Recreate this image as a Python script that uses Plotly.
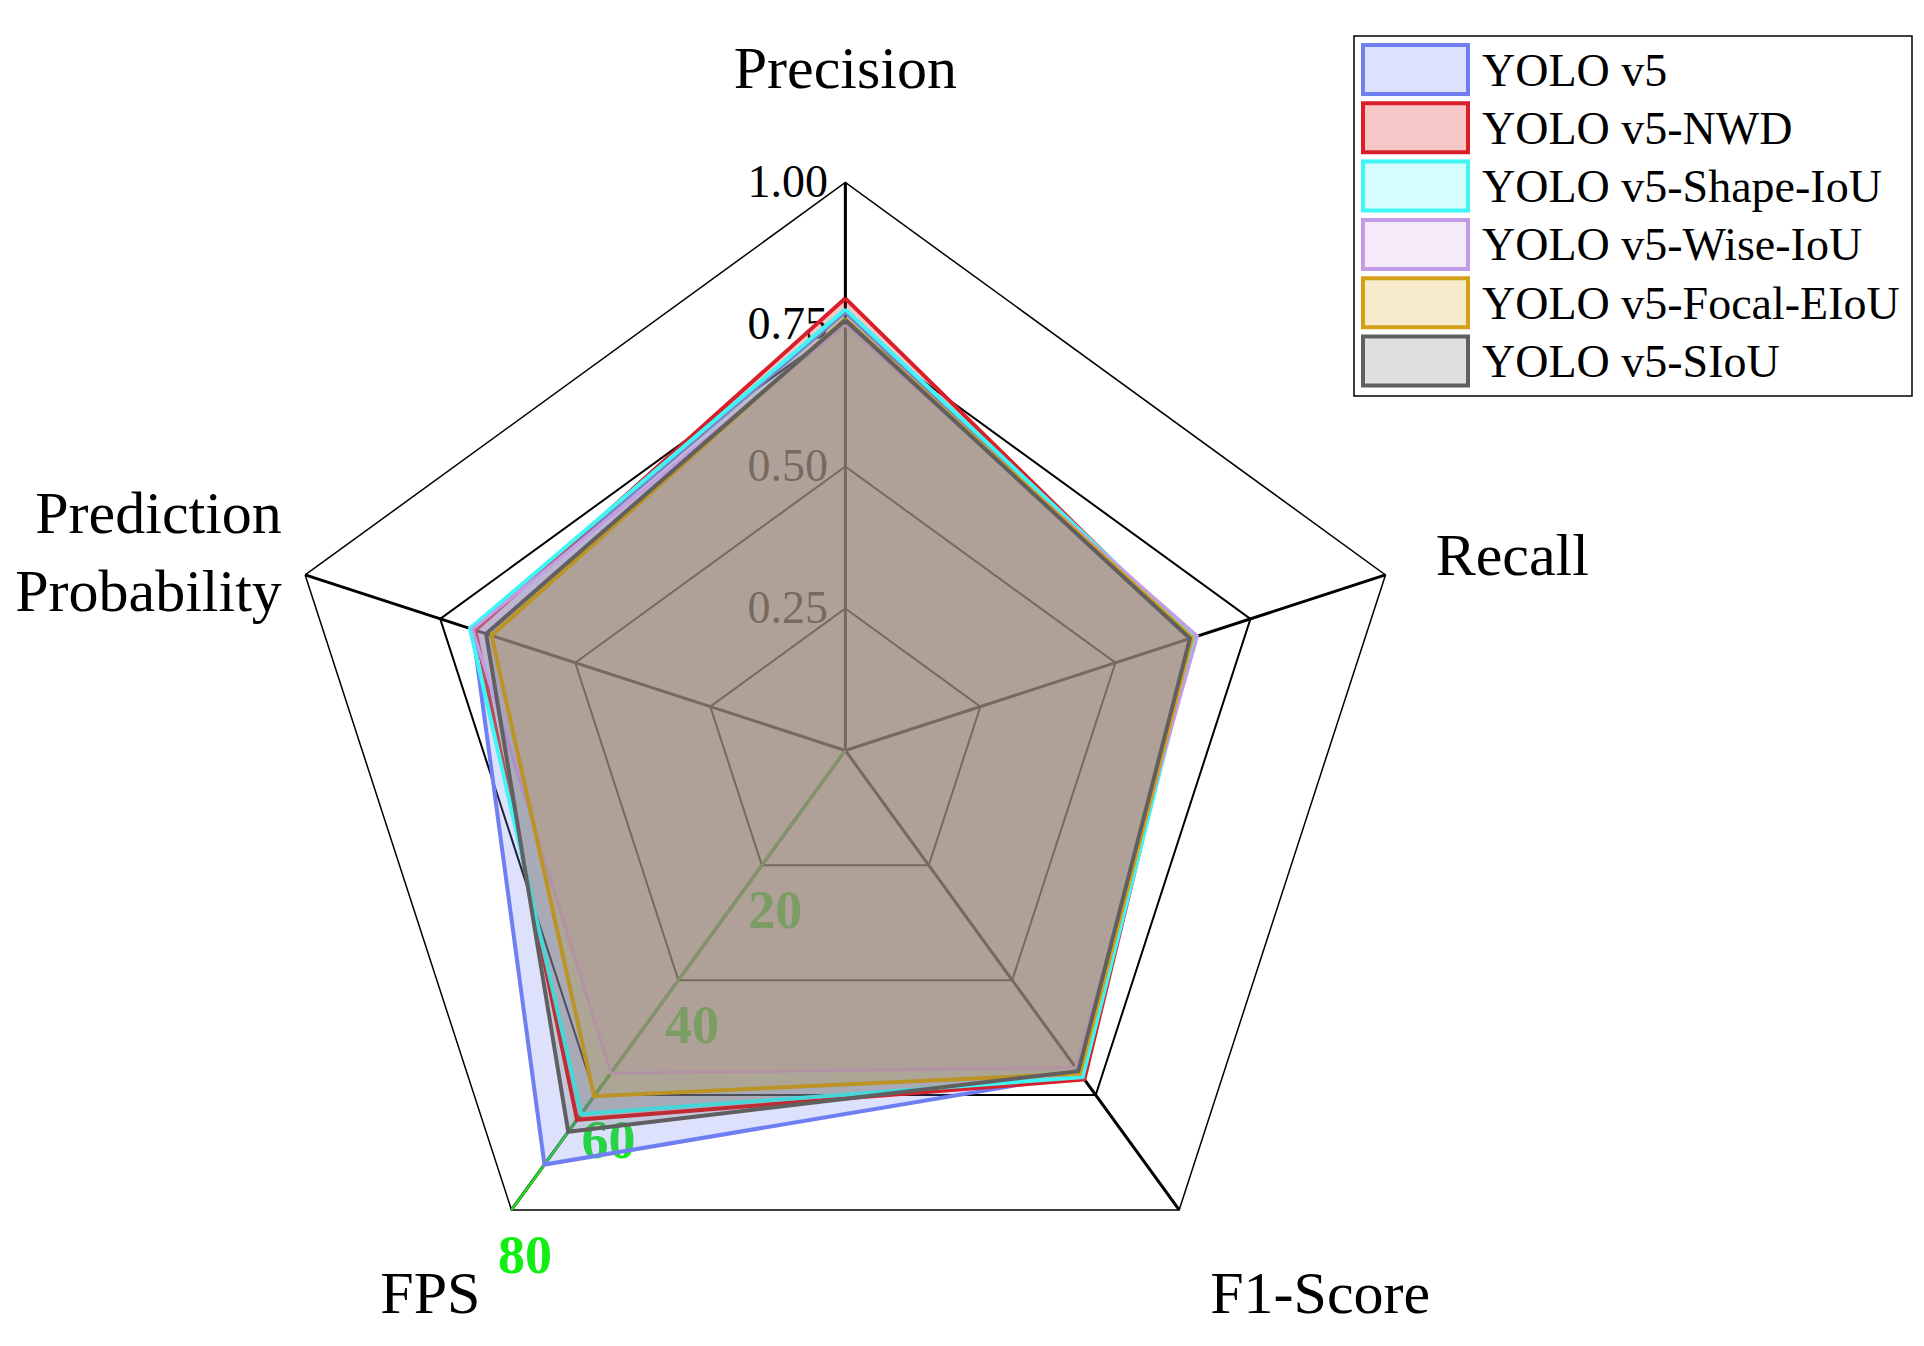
import plotly.graph_objects as go

# Axes of the radar
categories = ["Precision", "Recall", "F1-Score", "FPS", "Prediction<br>Probability"]

# Models (legend order)
models = ["YOLO v5", "YOLO v5-NWD", "YOLO v5-Shape-IoU",
          "YOLO v5-Wise-IoU", "YOLO v5-Focal-EIoU", "YOLO v5-SIoU"]

# Values, one per model
precision = [0.772, 0.796, 0.777, 0.749, 0.760, 0.758]
recall = [0.640, 0.640, 0.645, 0.652, 0.642, 0.638]
f1_score = [0.705, 0.716, 0.711, 0.690, 0.703, 0.698]
fps = [72.1, 64.3, 63.3, 56.2, 60.2, 66.4]
pred_prob = [0.690, 0.685, 0.695, 0.690, 0.655, 0.665]

# Tick labels
score_ticks = [0.25, 0.50, 0.75, 1.00]
fps_ticks = [20, 40, 60, 80]
fps_max = 80

line_colors = ["#6f7ff2", "#d9202a", "#3ff5f5", "#c49ce6", "#d4a017", "#606060"]
fill_colors = ["rgba(112,128,240,0.24)", "rgba(220,30,30,0.25)",
               "rgba(64,240,245,0.21)", "rgba(200,150,230,0.20)",
               "rgba(215,170,25,0.23)", "rgba(95,95,95,0.20)"]
line_widths = [4, 4, 4, 3, 4, 4]

FONT = "Liberation Serif"
W, H = 1924, 1346


def px(x, y):
    # pixel position -> paper coords
    return x / W, 1 - y / H


fig = go.Figure()

# helper trace so the grid subplot gets its categories
fig.add_trace(go.Scatterpolar(r=[None] * len(categories), theta=categories,
                              mode="lines", showlegend=False,
                              hoverinfo="skip", subplot="polar"))

# FPS tick labels, placed on the FPS axis through its own radial scale
fig.add_trace(go.Scatterpolar(
    r=fps_ticks, theta=["FPS"] * len(fps_ticks),
    text=["\u00a0\u00a0" + str(t) for t in fps_ticks], mode="markers+text",
    marker=dict(size=34, color="rgba(0,0,0,0)"),
    textposition="bottom center",
    textfont=dict(family=FONT, size=54, color="#11ee11", weight="bold"),
    showlegend=False, hoverinfo="skip", subplot="polar2",
))

for i, name in enumerate(models):
    r = [precision[i], recall[i], f1_score[i], fps[i] / fps_max, pred_prob[i]]
    fig.add_trace(go.Scatterpolar(
        r=r + r[:1], theta=categories + categories[:1],
        name=name, mode="lines", fill="toself",
        fillcolor=fill_colors[i],
        line=dict(color=line_colors[i], width=line_widths[i]),
        showlegend=False, subplot="polar3",
    ))

dom = dict(x=[0.1400, 0.7304], y=[0.0264, 0.8704])
ang_common = dict(type="category", rotation=90, direction="clockwise",
                  categoryorder="array", categoryarray=categories,
                  tickmode="array", tickvals=categories,
                  ticks="outside", tickcolor="rgba(0,0,0,0)",
                  tickfont=dict(family=FONT, size=60, color="black"))


def only(*names):
    return [c if c in names else "" for c in categories]


fig.update_layout(
    width=W, height=H,
    margin=dict(l=0, r=0, t=0, b=0),
    paper_bgcolor="white",
    font=dict(family=FONT, color="black"),
    # bottom layer: grid, score axis, most category labels
    polar=dict(
        domain=dom, gridshape="linear", bgcolor="white",
        angularaxis=dict(**ang_common, ticktext=only("Recall", "F1-Score", "FPS"),
                         ticklen=40, showgrid=True, gridcolor="black",
                         gridwidth=2.5, showline=True, linecolor="black",
                         linewidth=1.5, layer="below traces"),
        radialaxis=dict(range=[0, 1], tickvals=score_ticks, tickformat=".2f",
                        angle=90, tickangle=90, side="counterclockwise",
                        showgrid=True, gridcolor="black", gridwidth=1.5,
                        showline=True, linecolor="black", linewidth=2.5,
                        ticks="", layer="below traces",
                        tickfont=dict(family=FONT, size=46, color="black")),
    ),
    # middle layer: FPS axis in green
    polar2=dict(
        domain=dom, gridshape="linear", bgcolor="rgba(0,0,0,0)",
        angularaxis=dict(**ang_common, ticktext=only("Prediction<br>Probability"),
                         ticklen=12, showgrid=False, showline=False),
        radialaxis=dict(range=[0, fps_max], angle=234, showgrid=False,
                        showline=True, linecolor="#22dd22", linewidth=2.5,
                        showticklabels=False, ticks=""),
    ),
    # top layer: the data
    polar3=dict(
        domain=dom, gridshape="linear", bgcolor="rgba(0,0,0,0)",
        angularaxis=dict(**ang_common, ticktext=only("Precision"),
                         ticklen=70, showgrid=False, showline=False),
        radialaxis=dict(range=[0, 1], showgrid=False, showline=False,
                        showticklabels=False, ticks=""),
    ),
)

# legend box drawn by hand to get the large filled swatches
shapes = []
annotations = []
bx0, by0 = px(1346, 28)
bx1, by1 = px(1904, 388)
shapes.append(dict(type="rect", xref="paper", yref="paper",
                   x0=bx0, y0=by0, x1=bx1, y1=by1,
                   line=dict(color="black", width=1.5), fillcolor="white"))
row_h = 58.3
for i, name in enumerate(models):
    top = 37 + i * row_h
    sx0, sy0 = px(1355, top)
    sx1, sy1 = px(1460, top + 49)
    shapes.append(dict(type="rect", xref="paper", yref="paper",
                       x0=sx0, y0=sy0, x1=sx1, y1=sy1,
                       line=dict(color=line_colors[i], width=4),
                       fillcolor=fill_colors[i]))
    tx, ty = px(1472, top + 25)
    annotations.append(dict(text=name, xref="paper", yref="paper", x=tx, y=ty,
                            xanchor="left", yanchor="middle", showarrow=False,
                            font=dict(family=FONT, size=46, color="black")))

fig.update_layout(shapes=shapes, annotations=annotations)

fig.write_html("out.html")
